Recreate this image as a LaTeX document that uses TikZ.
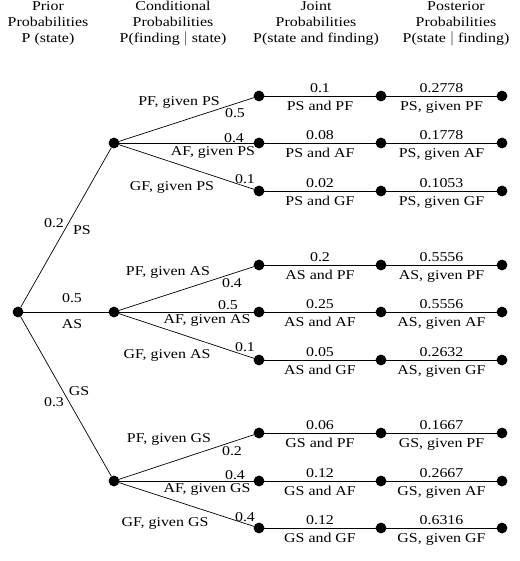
\documentclass[tikz,border=0pt]{standalone}
\usepackage{fontspec}
\setmainfont{Liberation Serif}[FakeStretch=1.18]
\usetikzlibrary{positioning}
\tikzset{
    dot/.style={
    circle,draw=black,fill=black,inner sep=0pt,minimum size=10pt
    },
    lbl/.style={
    inner sep=2.5pt
    },
    head/.style={
    align=center,inner sep=0pt
    },
}
\begin{document}
\begin{tikzpicture}[x=1pt, y=-1pt, line width=0.7pt, font=\fontsize{13.5}{16}\selectfont]
   \useasboundingbox (0,0) rectangle (519,561);

   % column heads
   \node[head] (hprior) at (48,23.6) {Prior\\Probabilities\\P (state)};
   \node[head] (hcond) at (173,23.6) {Conditional\\Probabilities\\P(finding $|$ state)};
   \node[head] (hjoint) at (316,23.6) {Joint\\Probabilities\\P(state and finding)};
   \node[head] (hpost) at (456,23.6) {Posterior\\Probabilities\\P(state $|$ finding)};

   % states
   \node[dot] (root) at (18,312) {};
   \node[dot] (ps) at (114,143) {};
   \node[dot] (as) at (114,312) {};
   \node[dot] (gs) at (114,481) {};

   % findings
   \node[dot] (pspf) at (259,96) {};
   \node[dot] (psaf) at (259,143) {};
   \node[dot] (psgf) at (259,191) {};
   \node[dot] (aspf) at (259,265) {};
   \node[dot] (asaf) at (259,312) {};
   \node[dot] (asgf) at (259,360) {};
   \node[dot] (gspf) at (259,433) {};
   \node[dot] (gsaf) at (259,481) {};
   \node[dot] (gsgf) at (259,528) {};

   % joint
   \node[dot] (jpspf) at (381,96) {};
   \node[dot] (jpsaf) at (381,143) {};
   \node[dot] (jpsgf) at (381,191) {};
   \node[dot] (jaspf) at (381,265) {};
   \node[dot] (jasaf) at (381,312) {};
   \node[dot] (jasgf) at (381,360) {};
   \node[dot] (jgspf) at (381,433) {};
   \node[dot] (jgsaf) at (381,481) {};
   \node[dot] (jgsgf) at (381,528) {};

   % posterior
   \node[dot] (ppspf) at (502,96) {};
   \node[dot] (ppsaf) at (502,143) {};
   \node[dot] (ppsgf) at (502,191) {};
   \node[dot] (paspf) at (502,265) {};
   \node[dot] (pasaf) at (502,312) {};
   \node[dot] (pasgf) at (502,360) {};
   \node[dot] (pgspf) at (502,433) {};
   \node[dot] (pgsaf) at (502,481) {};
   \node[dot] (pgsgf) at (502,528) {};

   % prior labels
   \node[lbl] (lps1) at (54,223) {0.2};
   \node[lbl] (lps2) at (82,230) {PS};
   \node[lbl] (las1) at (72,298) {0.5};
   \node[lbl] (las2) at (72,324) {AS};
   \node[lbl] (lgs1) at (54,402) {0.3};
   \node[lbl] (lgs2) at (79,391) {GS};

   % conditional labels
   \node[lbl] (c1a) at (179,102) {PF, given PS};
   \node[lbl] (c1b) at (235,113) {0.5};
   \node[lbl] (c2b) at (234,138) {0.4};
   \node[lbl] (c2a) at (213,152) {AF, given PS};
   \node[lbl] (c3a) at (172,187) {GF, given PS};
   \node[lbl] (c3b) at (245,179) {0.1};

   \node[lbl] (c4a) at (168,272) {PF, given AS};
   \node[lbl] (c4b) at (232,283) {0.4};
   \node[lbl] (c5b) at (228,305) {0.5};
   \node[lbl] (c5a) at (207,320) {AF, given AS};
   \node[lbl] (c6a) at (167,355) {GF, given AS};
   \node[lbl] (c6b) at (245,347) {0.1};

   \node[lbl] (c7a) at (169,439) {PF, given GS};
   \node[lbl] (c7b) at (232,451) {0.2};
   \node[lbl] (c8b) at (235,475) {0.4};
   \node[lbl] (c8a) at (207,489) {AF, given GS};
   \node[lbl] (c9a) at (165,523) {GF, given GS};
   \node[lbl] (c9b) at (245,517) {0.4};

  \path[draw]
    (root) edge (ps)
           edge (as)
           edge (gs)
    (ps) edge (pspf)
         edge (psaf)
         edge (psgf)
    (as) edge (aspf)
         edge (asaf)
         edge (asgf)
    (gs) edge (gspf)
         edge (gsaf)
         edge (gsgf);

  \path[draw, every node/.style={lbl}]
    (pspf) edge node[above] {0.1} node[below=2.5pt] {PS and PF} (jpspf)
    (psaf) edge node[above] {0.08} node[below=2.5pt] {PS and AF} (jpsaf)
    (psgf) edge node[above] {0.02} node[below=2.5pt] {PS and GF} (jpsgf)
    (aspf) edge node[above] {0.2} node[below=2.5pt] {AS and PF} (jaspf)
    (asaf) edge node[above] {0.25} node[below=2.5pt] {AS and AF} (jasaf)
    (asgf) edge node[above] {0.05} node[below=2.5pt] {AS and GF} (jasgf)
    (gspf) edge node[above] {0.06} node[below=2.5pt] {GS and PF} (jgspf)
    (gsaf) edge node[above] {0.12} node[below=2.5pt] {GS and AF} (jgsaf)
    (gsgf) edge node[above] {0.12} node[below=2.5pt] {GS and GF} (jgsgf);

  \path[draw, every node/.style={lbl}]
    (jpspf) edge node[above] {0.2778} node[below=2.5pt] {PS, given PF} (ppspf)
    (jpsaf) edge node[above] {0.1778} node[below=2.5pt] {PS, given AF} (ppsaf)
    (jpsgf) edge node[above] {0.1053} node[below=2.5pt] {PS, given GF} (ppsgf)
    (jaspf) edge node[above] {0.5556} node[below=2.5pt] {AS, given PF} (paspf)
    (jasaf) edge node[above] {0.5556} node[below=2.5pt] {AS, given AF} (pasaf)
    (jasgf) edge node[above] {0.2632} node[below=2.5pt] {AS, given GF} (pasgf)
    (jgspf) edge node[above] {0.1667} node[below=2.5pt] {GS, given PF} (pgspf)
    (jgsaf) edge node[above] {0.2667} node[below=2.5pt] {GS, given AF} (pgsaf)
    (jgsgf) edge node[above] {0.6316} node[below=2.5pt] {GS, given GF} (pgsgf);
\end{tikzpicture}
\end{document}
